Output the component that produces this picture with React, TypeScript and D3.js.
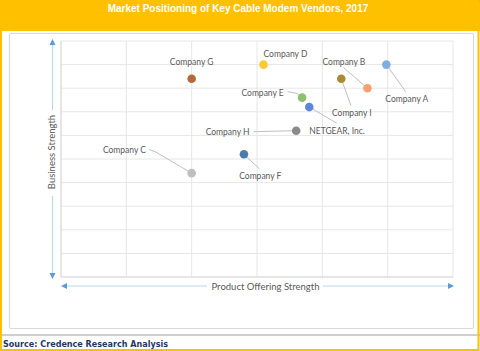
import React from "react";
import * as d3 from "d3";

const W = 480;
const H = 351;

const title = "Market Positioning of Key Cable Modem Vendors, 2017";
const source = "Source: Credence Research Analysis";
const xAxisTitle = "Product Offering Strength";
const yAxisTitle = "Business Strength";

const companies = ["Company A", "Company B", "Company C", "Company D", "Company E", "Company F", "Company G", "Company H", "Company I", "NETGEAR, Inc."];
const productStrength = [4.98, 4.69, 2.0, 3.1, 3.69, 2.8, 2.0, 3.6, 4.29, 3.8];
const businessStrength = [9.0, 8.0, 4.4, 9.0, 7.6, 5.2, 8.4, 6.2, 8.4, 7.2];
const colors = ["#7FAEE0", "#F4A172", "#BFBFBF", "#FFC933", "#8DC070", "#4A7CAE", "#B4693B", "#8A8A8A", "#A98B35", "#5C87D9"];

// label placement (pixel offsets from each point)
const labelDx = [-1, -23.5, -45.7, 0, -18.3, -4.7, 0, -46.7, -9.3, 0];
const labelDy = [34.6, -26.3, -23, -10.7, -5, 22, -16.7, 1, 34.3, 24];
const labelAnchor = ["start", "middle", "end", "start", "end", "start", "middle", "end", "start", "start"];
// leader line path offsets (pixels from point); empty = none
const leaders: number[][][] = [
  [[19.3, 27]],
  [[-24, -20.7]],
  [[-35.7, -21], [-42.4, -23.7]],
  [],
  [[-5, -4.3], [-14.6, -6]],
  [[15.6, 14.7]],
  [],
  [[-42.7, 1]],
  [[9.7, 27]],
  [[27.4, 16]],
];

const xTicks = d3.range(0, 7);
const yTicks = d3.range(0, 11);

export default function App() {
  const left = 61, right = 453, top = 41, bottom = 277;
  const x = d3.scaleLinear().domain([0, 6]).range([left, right]);
  const y = d3.scaleLinear().domain([0, 10]).range([bottom, top]);
  const font = "Lato, 'Liberation Sans', sans-serif";
  const labelColor = "#595959";
  const line = d3.line();

  return (
    <div style={{ position: "absolute", left: 0, top: 0 }}>
      <svg width={W} height={H} style={{ display: "block" }}>
        <rect x={0} y={0} width={W} height={H} fill="#fff" />
        <rect x={0} y={0} width={W} height={31} fill="#FFC000" />
        <rect x={0} y={0} width={W} height={1.5} fill="#D9A200" />
        <text x={238} y={12} textAnchor="middle" fill="#fff" fontWeight="bold" fontSize={10} fontFamily="'Liberation Sans', Arial, sans-serif">{title}</text>
        {/* inner panel */}
        <rect x={9.5} y={33.5} width={464} height={295} fill="#fff" stroke="#D9D9D9" strokeWidth={1.2} rx={1.5} />
        <line x1={0} x2={W} y1={335} y2={335} stroke="#BFBFBF" strokeWidth={1.5} />
        <text x={3} y={346.5} fill="#1F3864" fontWeight="bold" fontSize={8.6} fontFamily="Verdana, 'DejaVu Sans', sans-serif" textLength={165} lengthAdjust="spacingAndGlyphs">{source}</text>
        {/* outer gold border */}
        <rect x={1} y={1} width={W - 2.5} height={H - 2} fill="none" stroke="#FFC000" strokeWidth={2} />
        {/* grid */}
        {xTicks.map((t) => (
          <line key={"gx" + t} x1={x(t)} x2={x(t)} y1={top} y2={bottom} stroke="#E6E6E6" strokeWidth={1} />
        ))}
        {yTicks.map((t) => (
          <line key={"gy" + t} x1={left} x2={right} y1={y(t)} y2={y(t)} stroke="#E6E6E6" strokeWidth={1} />
        ))}
        <line x1={left} x2={left} y1={top} y2={bottom} stroke="#D9D9D9" />
        <line x1={left} x2={right} y1={bottom} y2={bottom} stroke="#D9D9D9" />
        {/* y axis arrow */}
        <line x1={52.5} x2={52.5} y1={44} y2={110} stroke="#BDD7EE" strokeWidth={1.2} />
        <line x1={52.5} x2={52.5} y1={196} y2={273} stroke="#BDD7EE" strokeWidth={1.2} />
        <path d="M52.5,39 L49.5,45 L55.5,45 Z" fill="#5B9BD5" />
        <path d="M52.5,279 L49.5,273 L55.5,273 Z" fill="#5B9BD5" />
        <text transform="translate(54.5,152) rotate(-90)" textAnchor="middle" fill={labelColor} fontSize={9.5} fontFamily={font}>{yAxisTitle}</text>
        {/* x axis arrow */}
        <line x1={66} x2={207} y1={286} y2={286} stroke="#BDD7EE" strokeWidth={1.2} />
        <line x1={323} x2={448} y1={286} y2={286} stroke="#BDD7EE" strokeWidth={1.2} />
        <path d="M61,286 L67,283 L67,289 Z" fill="#5B9BD5" />
        <path d="M454,286 L448,283 L448,289 Z" fill="#5B9BD5" />
        <text x={265.5} y={289.5} textAnchor="middle" fill={labelColor} fontSize={9.5} fontFamily={font}>{xAxisTitle}</text>
        {/* leader lines */}
        {companies.map((c, i) => {
          if (leaders[i].length === 0) return null;
          const px = x(productStrength[i]);
          const py = y(businessStrength[i]);
          const pts: [number, number][] = [[px, py], ...leaders[i].map((o) => [px + o[0], py + o[1]] as [number, number])];
          return <path key={"l" + c} d={line(pts) || ""} fill="none" stroke="#BFBFBF" strokeWidth={1} />;
        })}
        {/* points */}
        {companies.map((c, i) => (
          <circle key={"p" + c} cx={x(productStrength[i])} cy={y(businessStrength[i])} r={4.3} fill={colors[i]} />
        ))}
        {/* labels */}
        {companies.map((c, i) => (
          <text key={"t" + c} x={x(productStrength[i]) + labelDx[i]} y={y(businessStrength[i]) + labelDy[i]} dy="0.35em" textAnchor={labelAnchor[i]} fill={labelColor} fontSize={8.5} fontFamily={font}>{c}</text>
        ))}
      </svg>
    </div>
  );
}
